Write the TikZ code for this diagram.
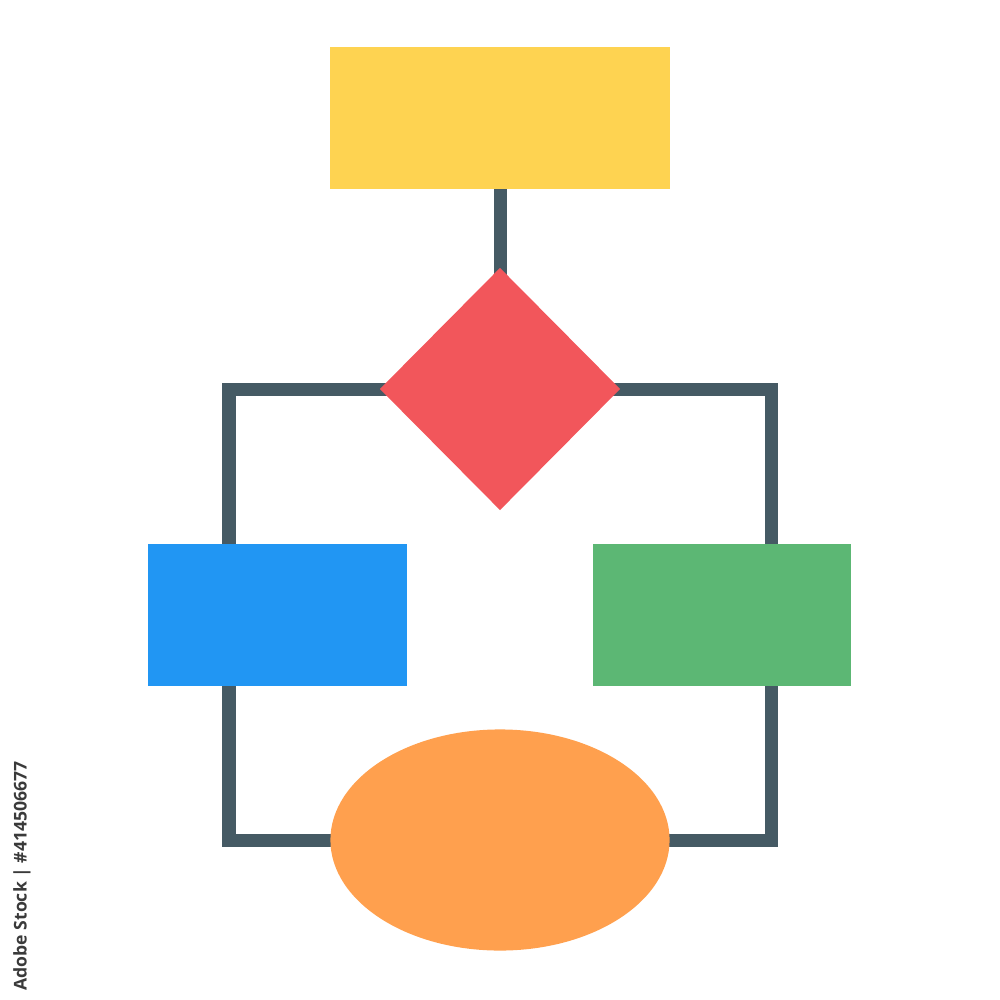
\documentclass[tikz,border=0pt]{standalone}
\usepackage{fontspec}
\setmainfont{Open Sans}
\usetikzlibrary{shapes.geometric,backgrounds}
\definecolor{cyellow}{HTML}{FED351}
\definecolor{cred}{HTML}{F2565B}
\definecolor{cblue}{HTML}{2196F3}
\definecolor{cgreen}{HTML}{5CB774}
\definecolor{corange}{HTML}{FFA04E}
\definecolor{cline}{HTML}{455A64}
\definecolor{cmark}{HTML}{3A3A3A}
\begin{document}
\begin{tikzpicture}[x=0.01cm,y=-0.01cm,
  shapebox/.style={inner sep=0,outer sep=0,draw=none},
  conn/.style={draw=cline,line width=0.13cm}]
\useasboundingbox (0,0) rectangle (1000,1000);
\node[shapebox,fill=cyellow,minimum width=3.39cm,minimum height=1.42cm] (top) at (500,118) {};
\node[shapebox,diamond,fill=cred,minimum width=2.40cm,minimum height=2.42cm] (dec) at (500,389) {};
\node[shapebox,fill=cblue,minimum width=2.59cm,minimum height=1.42cm] (left) at (277.5,615) {};
\node[shapebox,fill=cgreen,minimum width=2.58cm,minimum height=1.42cm] (right) at (722,615) {};
\node[shapebox,ellipse,fill=corange,minimum width=3.39cm,minimum height=2.21cm] (end) at (500,840) {};
\coordinate (tl) at (229,389);
\coordinate (tr) at (771,389);
\coordinate (bl) at (229,840);
\coordinate (br) at (771,840);
\begin{scope}[on background layer]
\draw[conn] (top.center) -- (dec.center);
\draw[conn] (dec.center) -- (tl) -- (tl |- left.center);
\draw[conn] (dec.center) -- (tr) -- (tr |- right.center);
\draw[conn] (bl |- left.center) -- (bl) -- (end.center);
\draw[conn] (br |- right.center) -- (br) -- (end.center);
\end{scope}
\node[rotate=90,text=cmark,font=\fontsize{5pt}{6pt}\selectfont\bfseries,inner sep=0] (mark) at (22,876) {Adobe Stock | \#414506677};
\end{tikzpicture}
\end{document}
